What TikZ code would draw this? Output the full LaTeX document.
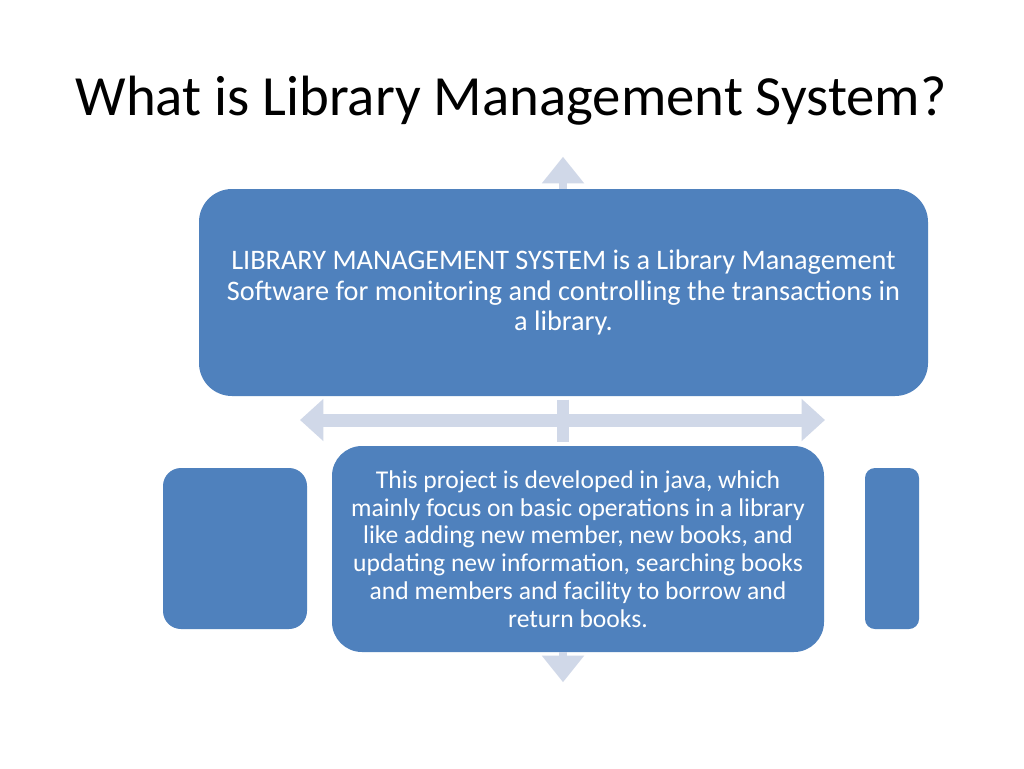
\documentclass[tikz,border=0pt]{standalone}
\usepackage{fontspec}
\setmainfont{Carlito}
\usetikzlibrary{arrows.meta}
\definecolor{boxblue}{HTML}{4F81BD}
\definecolor{arrowgrey}{HTML}{D0D8E8}
\tikzset{
	bluebox/.style={fill=boxblue, draw=none, text=white, align=center, inner sep=0pt},
	lightarrow/.style={draw=arrowgrey, line width=8.5pt},
	bigtip/.style={-{Triangle[width=30.5pt,length=20pt]}}
}

\begin{document}
\begin{tikzpicture}[x=0.75pt, y=-0.75pt]
			%%%%% START %%%%%
			
			\useasboundingbox[fill=white] (0, 0) rectangle (1024, 768);
			
			\node[font=\fontsize{42.6}{51}\selectfont] (title) at (511, 101) {What is Library Management System?};
			
			\node[bluebox, font=\fontsize{21.2}{22.9}\selectfont, minimum width=546.75pt, minimum height=155.25pt, rounded corners=24.75pt] (lms) at (563.5, 292.5)
			{LIBRARY MANAGEMENT SYSTEM is a Library Management\\
			Software for monitoring and controlling the transactions in\\
			a library.};
			
			\node[bluebox, font=\fontsize{19.2}{20.8}\selectfont, minimum width=369pt, minimum height=154.5pt, rounded corners=22.5pt] (project) at (578, 549)
			{This project is developed in java, which\\
			mainly focus on basic operations in a library\\
			like adding new member, new books, and\\
			updating new information, searching books\\
			and members and facility to borrow and\\
			return books.};
			
			\node[bluebox, minimum width=108pt, minimum height=120.75pt, rounded corners=13.5pt] (leftbox) at (235, 548.5) {};
			\node[bluebox, minimum width=40.5pt, minimum height=120.75pt, rounded corners=7.5pt] (rightbox) at (892, 548.5) {};
			
			\coordinate (westend) at (300, 420);
			\coordinate (eastend) at (825, 420);
			\coordinate (hub) at (563, 420);
			
			\draw[lightarrow, line width=6pt, bigtip] (lms.north -| hub) -- ++(0, -32);
			\draw[lightarrow, line width=6pt, bigtip] (project.south -| hub) -- ++(0, 30);
			\draw[lightarrow, line width=9.75pt, {Triangle[width=30.5pt,length=17.5pt]}-{Triangle[width=30.5pt,length=17.5pt]}] (westend) -- (eastend);
			\draw[lightarrow] ([yshift=-2.5pt]lms.south -| hub) -- ([yshift=2.5pt]project.north -| hub);
			
			%%%%% END %%%%%
\end{tikzpicture}
\end{document}
